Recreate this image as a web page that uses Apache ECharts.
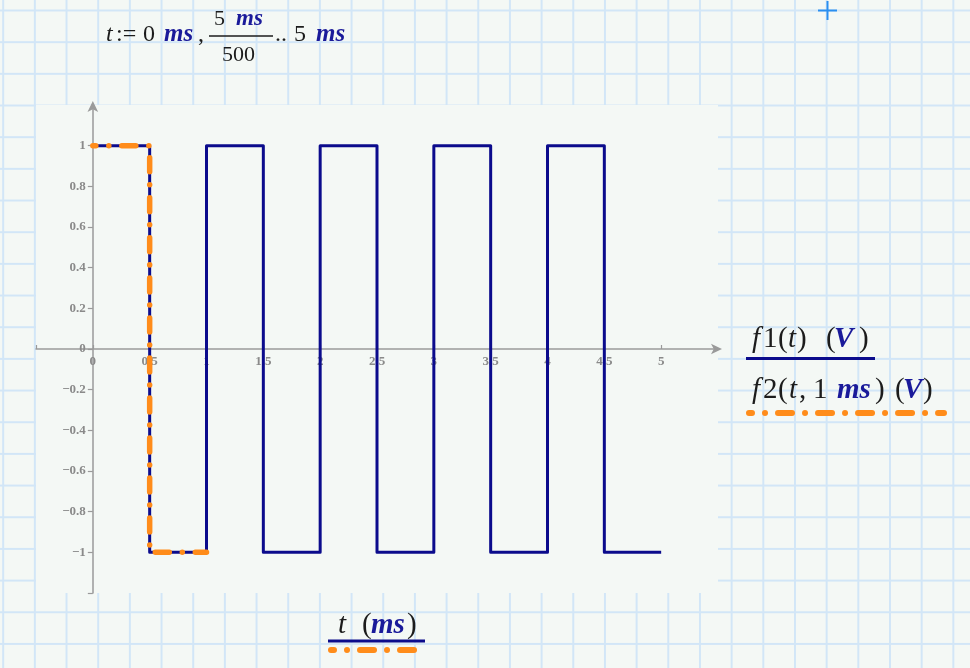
<!DOCTYPE html>
<html><head><meta charset="utf-8">
<script src="https://cdn.jsdelivr.net/npm/echarts@6/dist/echarts.min.js"></script>
<style>
html,body{margin:0;padding:0;width:970px;height:668px;overflow:hidden;
background-color:#f4f8f5;
background-image:linear-gradient(to right,#d2e6f7 0,#d2e6f7 1.5px,transparent 1.5px),linear-gradient(to bottom,#d2e6f7 0,#d2e6f7 1.5px,transparent 1.5px);
background-size:31.68px 31.68px;background-position:2.2px 9.5px;}
#c{width:970px;height:668px;}
</style></head>
<body><div id="c"></div>
<script>
// ---- data ----
const tBreaks  = [0, 0.5, 1, 1.5, 2, 2.5, 3, 3.5, 4, 4.5, 5];      // t (ms)
const f1Values = [1, -1, 1, -1, 1, -1, 1, -1, 1, -1, -1];           // f1(t) (V)
const f2Times  = [0, 0.5, 1];                                         // t (ms)
const f2Values = [1, -1, -1];                                         // f2(t,1ms) (V)
const xTickLabels = [0, 0.5, 1, 1.5, 2, 2.5, 3, 3.5, 4, 4.5, 5];
const yTickLabels = [-1, -0.8, -0.6, -0.4, -0.2, 0, 0.2, 0.4, 0.6, 0.8, 1];
const xTickMarks = [-0.5].concat(xTickLabels);
const yTickMarks = [-1.2].concat(yTickLabels);
const xRange = [-0.5, 5.5], yRange = [-1.2, 1.2];

const BLUE = '#0b0b8c', ORANGE = '#ff8c1a', AX = '#9a9a9a', TXT = '#1c1c1c', UNIT = '#1a1a9a';
const serif = "'Liberation Serif', serif";
const fmt = v => String(+v.toFixed(2)).replace('-', '\u2212');

// layout
const G = {left: 36, top: 105, width: 682, height: 488};
// place axes through the zero of the other axis
const yZeroPx = G.top + G.height * (yRange[1] - 0) / (yRange[1] - yRange[0]);
const xZeroPx = G.left + G.width * (0 - xRange[0]) / (xRange[1] - xRange[0]);

const chart = echarts.init(document.getElementById('c'), null, {renderer: 'canvas'});

// text tokens: [x, baseline, text, kind, size]
const R = 'r', I = 'i', U = 'u';
const tokens = [
  // t := 0 ms, 5 ms / 500 .. 5 ms
  [106, 43, 't', I, 24], [116, 43, ':=', R, 24], [143, 43, '0', R, 24], [164, 43, 'ms', U, 25], [198, 43, ',', R, 24],
  [214, 27, '5', R, 22], [236, 27, 'ms', U, 23], [222, 63, '500', R, 22],
  [275, 43, '..', R, 24], [294, 43, '5', R, 24], [316, 43, 'ms', U, 25],
  // legend 1
  [752, 349, 'f', I, 29], [763, 349, '1', R, 29], [778, 349, '(', R, 29], [788, 349, 't', I, 29], [797, 349, ')', R, 29],
  [826, 349, '(', R, 29], [834, 349, 'V', U, 29], [859, 349, ')', R, 29],
  // legend 2
  [752, 400, 'f', I, 29], [763, 400, '2', R, 29], [778, 400, '(', R, 29], [789, 400, 't', I, 29], [799, 400, ',', R, 29],
  [813, 400, '1', R, 29], [837, 400, 'ms', U, 29], [875, 400, ')', R, 29],
  [895, 400, '(', R, 29], [903, 400, 'V', U, 29], [923, 400, ')', R, 29],
  // axis title
  [338, 635, 't', I, 29], [362, 635, '(', R, 29], [371, 635, 'ms', U, 29], [407, 635, ')', R, 29]
];
const styleOf = (kind, size) => {
  const s = {fontFamily: serif, fontSize: size, fill: TXT, fontStyle: 'normal', fontWeight: 'normal'};
  if (kind === I) s.fontStyle = 'italic';
  if (kind === U) { s.fontStyle = 'italic'; s.fontWeight = 'bold'; s.fill = UNIT; }
  return s;
};
const textGraphics = tokens.map(([x, b, t, k, size]) => ({
  type: 'text', x: x, y: b - 0.34 * size,
  style: Object.assign(styleOf(k, size), {text: t, align: 'left', verticalAlign: 'middle'})
}));

const dash = [14, 13, 0.01, 13];

chart.setOption({
  animation: false,
  backgroundColor: 'transparent',
  grid: Object.assign({show: true, backgroundColor: '#f4f8f5', borderWidth: 0, containLabel: false, outerBoundsMode: 'none'}, G),
  xAxis: {
    type: 'value', min: xRange[0], max: xRange[1], position: 'bottom',
    offset: -(G.top + G.height - yZeroPx),
    axisLine: {onZero: false, lineStyle: {color: AX, width: 1.5}, symbol: ['none', 'arrow'], symbolSize: [8, 11], symbolOffset: [0, 4]},
    axisTick: {show: true, inside: true, length: 4, customValues: xTickMarks, lineStyle: {color: AX, width: 1.2}},
    axisLabel: {customValues: xTickLabels, formatter: fmt, color: '#8a8a8a', fontFamily: serif, fontWeight: 'bold', fontSize: 13, margin: 6},
    splitLine: {show: false}
  },
  yAxis: {
    type: 'value', min: yRange[0], max: yRange[1], position: 'left',
    offset: -(xZeroPx - G.left),
    axisLine: {onZero: false, lineStyle: {color: AX, width: 1.5}, symbol: ['none', 'arrow'], symbolSize: [8, 11], symbolOffset: [0, 4]},
    axisTick: {show: true, inside: false, length: 5, customValues: yTickMarks, lineStyle: {color: AX, width: 1.2}},
    axisLabel: {customValues: yTickLabels, formatter: fmt, color: '#8a8a8a', fontFamily: serif, fontWeight: 'bold', fontSize: 13, margin: 7},
    splitLine: {show: false}
  },
  series: [
    {type: 'line', name: 'f1', step: 'end', showSymbol: false, symbol: 'none',
     data: tBreaks.map((t, k) => [t, f1Values[k]]),
     lineStyle: {color: BLUE, width: 3, join: 'round'}, z: 2},
    {type: 'line', name: 'f2', step: 'end', showSymbol: false, symbol: 'none',
     data: f2Times.map((t, k) => [t, f2Values[k]]),
     lineStyle: {color: ORANGE, width: 5.5, type: dash, dashOffset: 11, cap: 'round', join: 'round'}, z: 3}
  ],
  graphic: textGraphics.concat([
    {type: 'line', shape: {x1: 209, y1: 36, x2: 273, y2: 36}, style: {stroke: TXT, lineWidth: 1.3}},
    {type: 'line', shape: {x1: 746, y1: 358.5, x2: 875, y2: 358.5}, style: {stroke: BLUE, lineWidth: 3}},
    {type: 'line', shape: {x1: 749, y1: 413, x2: 944, y2: 413}, style: {stroke: ORANGE, lineWidth: 6, lineDash: dash, lineDashOffset: 11, lineCap: 'round'}},
    {type: 'line', shape: {x1: 328, y1: 641, x2: 425, y2: 641}, style: {stroke: BLUE, lineWidth: 3}},
    {type: 'line', shape: {x1: 331, y1: 650, x2: 416, y2: 650}, style: {stroke: ORANGE, lineWidth: 6, lineDash: dash, lineDashOffset: 11, lineCap: 'round'}},
    {type: 'line', shape: {x1: 818, y1: 10.5, x2: 837, y2: 10.5}, style: {stroke: '#2a8ff0', lineWidth: 2}},
    {type: 'line', shape: {x1: 827.5, y1: 1, x2: 827.5, y2: 20}, style: {stroke: '#2a8ff0', lineWidth: 2}}
  ])
});
</script></body></html>
